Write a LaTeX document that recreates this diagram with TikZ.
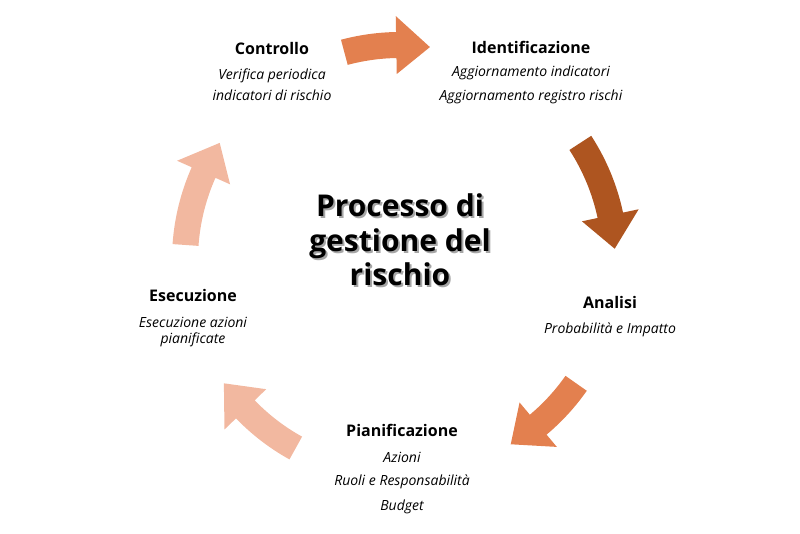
\documentclass[tikz,border=0pt]{standalone}
\usepackage{fontspec}
\setmainfont{Open Sans}
\definecolor{orA}{HTML}{E3804F}
\definecolor{orD}{HTML}{AE5520}
\definecolor{orL}{HTML}{F2B8A0}
\newcommand{\cyc}[4]{% start, headstart, end, color
  \fill[#4] ($(C)+(#1:228)$) arc[start angle=#1,end angle=#2,radius=228*0.75pt]
   -- ($(C)+(#2:244)$) -- ($(C)+(#3:215)$) -- ($(C)+(#2:186)$)
   -- ($(C)+(#2:202)$) arc[start angle=#2,end angle=#1,radius=202*0.75pt] -- cycle;}
\usetikzlibrary{calc}
\tikzset{head/.style={font=\bfseries\fontsize{12}{14}\selectfont},
 sub/.style={font=\itshape\fontsize{10.5}{13}\selectfont},
 ttl/.style={font=\bfseries\fontsize{22.5}{26}\selectfont,align=center}}
\begin{document}
\begin{tikzpicture}[x=0.75pt,y=0.75pt]
\useasboundingbox (0,0) rectangle (800,534);
\coordinate (C) at (400,274);
\cyc{105}{91}{82}{orA}
\cyc{33}{12}{3}{orD}
\cyc{-35}{-50}{-59}{orA}
\cyc{-119}{-136}{-145}{orL}
\cyc{176}{156}{147}{orL}
\node[head] (c) at (272,485) {Controllo};
\node[sub] (c1) at (272,458) {Verifica periodica};
\node[sub] (c2) at (272,439) {indicatori di rischio};
\node[head] (i) at (531,487) {Identificazione};
\node[sub] (i1) at (531,461) {Aggiornamento indicatori};
\node[sub] (i2) at (531,437) {Aggiornamento registro rischi};
\node[head] (a) at (610,231) {Analisi};
\node[sub] (a1) at (610,204) {Probabilità e Impatto};
\node[head] (p) at (402,104) {Pianificazione};
\node[sub] (p1) at (402,77) {Azioni};
\node[sub] (p2) at (402,52) {Ruoli e Responsabilità};
\node[sub] (p3) at (402,27) {Budget};
\node[head] (e) at (193,238) {Esecuzione};
\node[sub] (e1) at (193,212) {Esecuzione azioni};
\node[sub] (e2) at (193,194) {pianificate};
\node[ttl,text=black!35] (ts) at (402,292) {Processo di\\gestione del\\rischio};
\node[ttl] (t) at (400,294) {Processo di\\gestione del\\rischio};
\end{tikzpicture}
\end{document}
